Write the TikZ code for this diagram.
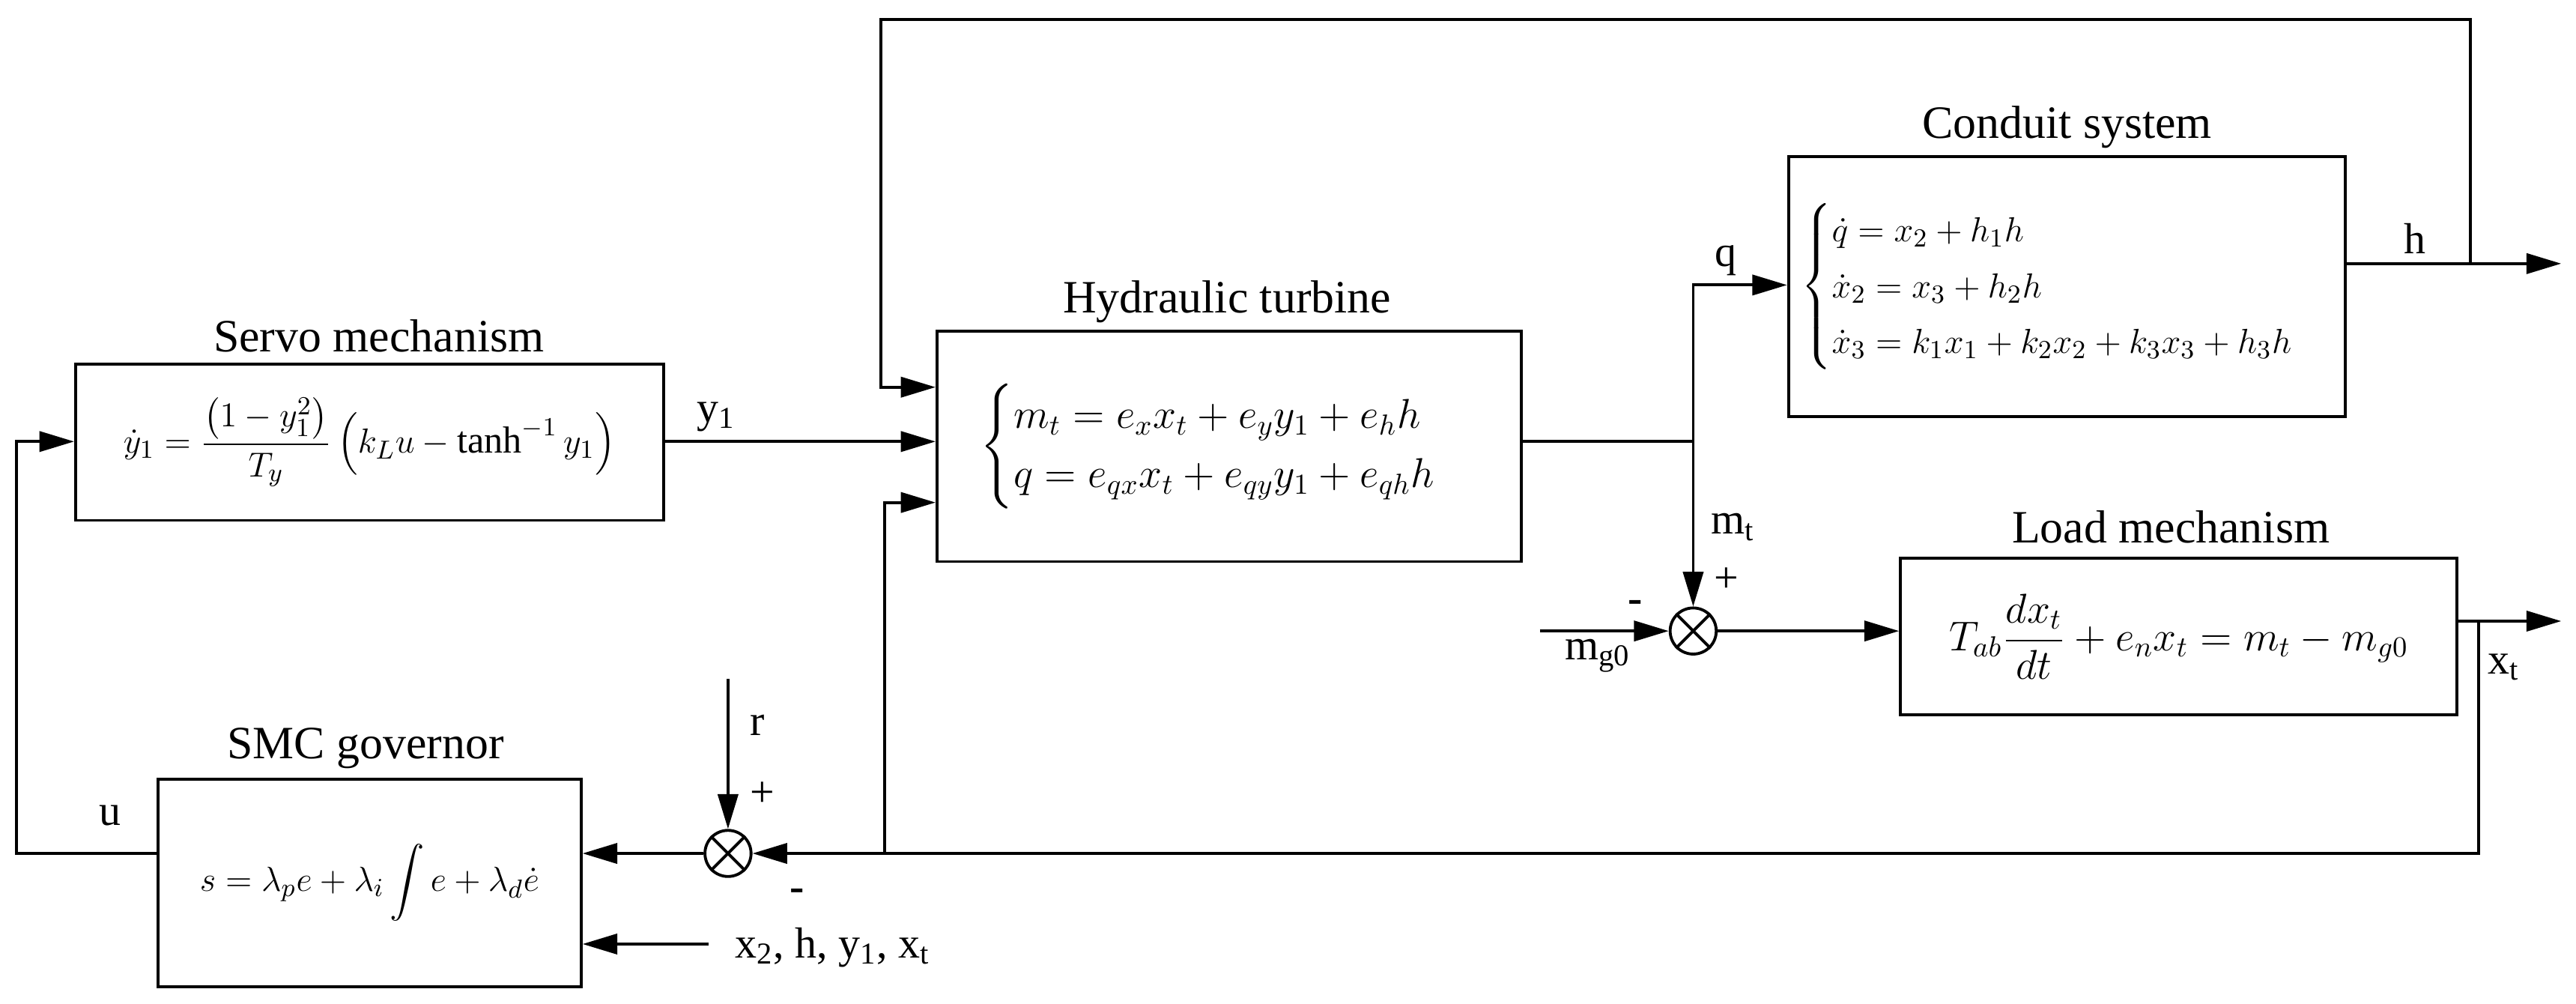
\documentclass[tikz,border=0pt]{standalone}
\usepackage{fontspec}
\setmainfont{Liberation Serif}
\usepackage{amsmath}
\usetikzlibrary{arrows.meta}
\begin{document}
\begin{tikzpicture}[x=0.02cm,y=-0.02cm,
  font=\fontsize{15}{18}\selectfont,
  eq/.style={font=\fontsize{14}{17}\selectfont},
  eqs/.style={font=\fontsize{13}{16}\selectfont},
  blk/.style={draw,line width=1pt,anchor=north west,inner sep=0pt},
  ln/.style={line width=1pt},
  ar/.style={ln,-{Triangle[length=12pt,width=7pt]}},
  sum/.style={draw,line width=1pt,circle,inner sep=0pt,minimum size=0.56cm},
  ttl/.style={font=\fontsize{16}{19}\selectfont}]
\useasboundingbox (0,0) rectangle (1564,609);
% boxes
\node[blk,minimum width=7.14cm,minimum height=1.9cm] (servo) at (45,220) {};
\node[eqs] at (servo.center) {$\dot y_1=\dfrac{\left(1-y_1^2\right)}{T_y}\left(k_Lu-\tanh^{-1}y_1\right)$};
\node[ttl] (ts) at (230,204) {Servo mechanism};
\node[blk,minimum width=7.1cm,minimum height=2.8cm] (turb) at (568,200) {};
\node[eq] at (turb.center) {$\begin{cases} m_t=e_xx_t+e_yy_1+e_hh\\ q=e_{qx}x_t+e_{qy}y_1+e_{qh}h\end{cases}$};
\node[ttl] (tt) at (745,183) {Hydraulic turbine};
\node[blk,minimum width=6.76cm,minimum height=3.16cm] (cond) at (1085,94) {};
\node[eqs] at (cond.center) {$\begin{cases} \dot q=x_2+h_1h\\ \dot x_2=x_3+h_2h\\ \dot x_3=k_1x_1+k_2x_2+k_3x_3+h_3h\end{cases}$};
\node[ttl] (tc) at (1255,77) {Conduit system};
\node[blk,minimum width=6.76cm,minimum height=1.9cm] (load) at (1153,338) {};
\node[eq] at (load.center) {$T_{ab}\dfrac{dx_t}{dt}+e_nx_t=m_t-m_{g0}$};
\node[ttl] (tl) at (1318,320) {Load mechanism};
\node[blk,minimum width=5.14cm,minimum height=2.52cm] (smc) at (95,472) {};
\node[eqs] at (smc.center) {$s=\lambda_pe+\lambda_i\displaystyle\int e+\lambda_d\dot e$};
\node[ttl] (tg) at (222,454) {SMC governor};
% sums
\node[sum] (s1) at (1028,383) {};
\draw[ln] (s1.north west)--(s1.south east) (s1.north east)--(s1.south west);
\node[sum] (s2) at (442,518) {};
\draw[ln] (s2.north west)--(s2.south east) (s2.north east)--(s2.south west);
% coordinates
\coordinate (hout) at (1555,160);
\coordinate (hb) at (1500,160);
\coordinate (spl) at (1028,268);
\coordinate (mg) at (935,383);
\coordinate (xout) at (1555,377);
\coordinate (xb) at (1505,377);
\coordinate (tb) at (537,518);
\coordinate (r) at (442,412);
\coordinate (oth) at (430,573);
% connectors
\draw[ar] (cond.east |- hout) -- (hout);
\draw[ar] (hb) -- (1500,12) -- (535,12) -- (535,235) -- (turb.west |- 0,235);
\draw[ln] (turb.east |- spl) -- (spl);
\draw[ar] (spl) -- (1028,173) -- (cond.west |- 0,173);
\draw[ar] (spl) -- (s1.north);
\draw[ar] (mg) -- (s1.west);
\draw[ar] (s1.east) -- (load.west |- s1);
\draw[ar] (load.east |- xout) -- (xout);
\draw[ar] (xb) -- (1505,518) -- (s2.east);
\draw[ar] (tb) -- (537,305) -- (turb.west |- 0,305);
\draw[ar] (r) -- (s2.north);
\draw[ar] (s2.west) -- (smc.east |- s2);
\draw[ar] (oth) -- (smc.east |- oth);
\draw[ar] (smc.west |- 0,518) -- (10,518) -- (10,268) -- (servo.west |- 0,268);
\draw[ar] (servo.east |- 0,268) -- (turb.west |- 0,268);
% labels
\node (lq) at (1048,158) {q};
\node (lh) at (1466,145) {h};
\node (lmt) at (1052,320) {m\textsubscript{t}};
\node (lp1) at (1048,352) {+};
\node (lm1) at (993,368) {\textbf{-}};
\node (lmg) at (970,398) {m\textsubscript{g0}};
\node (lxt) at (1520,405) {x\textsubscript{t}};
\node (lr) at (460,440) {r};
\node (lp2) at (463,482) {+};
\node (lm2) at (484,543) {\textbf{-}};
\node[anchor=west] (lo) at (440,575) {x\textsubscript{2}, h, y\textsubscript{1}, x\textsubscript{t}};
\node (lu) at (67,495) {u};
\node (ly) at (435,253) {y\textsubscript{1}};
\end{tikzpicture}
\end{document}
